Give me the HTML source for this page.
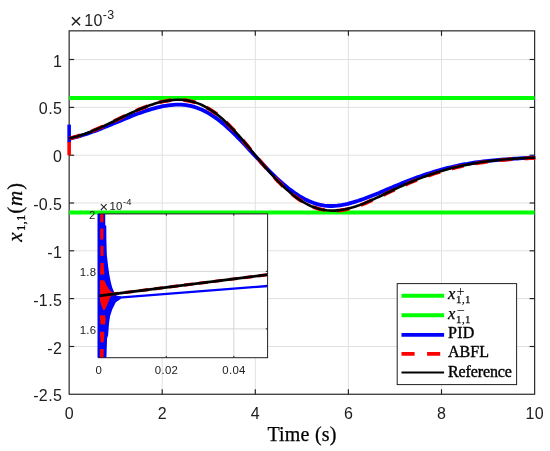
<!DOCTYPE html>
<html lang="en"><head><meta charset="utf-8"><title>Plot</title>
<style>html,body{margin:0;padding:0;background:#fff;}svg{display:block;}</style>
</head><body>
<svg width="550" height="451" viewBox="0 0 550 451">
<rect x="0" y="0" width="550" height="451" fill="#ffffff"/>
<g stroke="#e1e1e1" stroke-width="1" fill="none">
<line x1="162.2" y1="30.85" x2="162.2" y2="394.3"/>
<line x1="255.3" y1="30.85" x2="255.3" y2="394.3"/>
<line x1="348.4" y1="30.85" x2="348.4" y2="394.3"/>
<line x1="441.5" y1="30.85" x2="441.5" y2="394.3"/>
<line x1="69.15" y1="59.5" x2="534.6" y2="59.5"/>
<line x1="69.15" y1="107.4" x2="534.6" y2="107.4"/>
<line x1="69.15" y1="155.2" x2="534.6" y2="155.2"/>
<line x1="69.15" y1="203.0" x2="534.6" y2="203.0"/>
<line x1="69.15" y1="250.8" x2="534.6" y2="250.8"/>
<line x1="69.15" y1="298.6" x2="534.6" y2="298.6"/>
<line x1="69.15" y1="346.5" x2="534.6" y2="346.5"/>
</g>
<g stroke="#202020" stroke-width="1.15" fill="none">
<rect x="69.15" y="30.85" width="465.5" height="363.4"/>
<line x1="162.2" y1="394.3" x2="162.2" y2="389.3"/>
<line x1="162.2" y1="30.85" x2="162.2" y2="35.85"/>
<line x1="255.3" y1="394.3" x2="255.3" y2="389.3"/>
<line x1="255.3" y1="30.85" x2="255.3" y2="35.85"/>
<line x1="348.4" y1="394.3" x2="348.4" y2="389.3"/>
<line x1="348.4" y1="30.85" x2="348.4" y2="35.85"/>
<line x1="441.5" y1="394.3" x2="441.5" y2="389.3"/>
<line x1="441.5" y1="30.85" x2="441.5" y2="35.85"/>
<line x1="69.15" y1="59.5" x2="74.15" y2="59.5"/>
<line x1="534.6" y1="59.5" x2="529.6" y2="59.5"/>
<line x1="69.15" y1="107.4" x2="74.15" y2="107.4"/>
<line x1="534.6" y1="107.4" x2="529.6" y2="107.4"/>
<line x1="69.15" y1="155.2" x2="74.15" y2="155.2"/>
<line x1="534.6" y1="155.2" x2="529.6" y2="155.2"/>
<line x1="69.15" y1="203.0" x2="74.15" y2="203.0"/>
<line x1="534.6" y1="203.0" x2="529.6" y2="203.0"/>
<line x1="69.15" y1="250.8" x2="74.15" y2="250.8"/>
<line x1="534.6" y1="250.8" x2="529.6" y2="250.8"/>
<line x1="69.15" y1="298.6" x2="74.15" y2="298.6"/>
<line x1="534.6" y1="298.6" x2="529.6" y2="298.6"/>
<line x1="69.15" y1="346.5" x2="74.15" y2="346.5"/>
<line x1="534.6" y1="346.5" x2="529.6" y2="346.5"/>
</g>
<line x1="69.15" y1="97.95" x2="534.6" y2="97.95" stroke="#00ff00" stroke-width="4.0"/>
<line x1="69.15" y1="212.45" x2="534.6" y2="212.45" stroke="#00ff00" stroke-width="4.0"/>
<path d="M69.2,138.8 L71.8,138.2 L74.4,137.5 L77.0,136.8 L79.6,136.1 L82.2,135.3 L84.8,134.5 L87.4,133.6 L90.0,132.7 L92.6,131.8 L95.2,130.9 L97.8,129.9 L100.4,128.9 L103.0,127.8 L105.6,126.8 L108.2,125.7 L110.8,124.7 L113.4,123.6 L116.0,122.5 L118.6,121.4 L121.2,120.4 L123.8,119.3 L126.4,118.2 L129.0,117.2 L131.6,116.1 L134.2,115.1 L136.8,114.1 L139.4,113.1 L142.1,112.2 L144.7,111.3 L147.3,110.4 L149.9,109.6 L152.5,108.8 L155.1,108.1 L157.7,107.4 L160.3,106.8 L162.9,106.2 L165.5,105.8 L168.1,105.4 L170.7,105.1 L173.3,104.8 L175.9,104.7 L178.5,104.7 L181.1,104.7 L183.7,104.9 L186.3,105.2 L188.9,105.6 L191.5,106.2 L194.1,106.9 L196.7,107.7 L199.3,108.7 L201.9,109.8 L204.5,111.0 L207.1,112.4 L209.7,113.9 L212.3,115.6 L215.0,117.4 L217.6,119.3 L220.2,121.3 L222.8,123.4 L225.4,125.7 L228.0,128.0 L230.6,130.4 L233.2,132.9 L235.8,135.5 L238.4,138.1 L241.0,140.8 L243.6,143.5 L246.2,146.3 L248.8,149.1 L251.4,151.9 L254.0,154.7 L256.6,157.5 L259.2,160.3 L261.8,163.1 L264.4,165.8 L267.0,168.5 L269.6,171.2 L272.2,173.8 L274.8,176.3 L277.4,178.8 L280.0,181.2 L282.6,183.5 L285.3,185.7 L287.9,187.9 L290.5,189.9 L293.1,191.8 L295.7,193.7 L298.3,195.4 L300.9,197.0 L303.5,198.4 L306.1,199.8 L308.7,201.0 L311.3,202.1 L313.9,203.1 L316.5,203.9 L319.1,204.6 L321.7,205.1 L324.3,205.6 L326.9,205.8 L329.5,206.0 L332.1,206.0 L334.7,205.9 L337.3,205.7 L339.9,205.3 L342.5,204.9 L345.1,204.4 L347.7,203.8 L350.3,203.1 L352.9,202.4 L355.5,201.6 L358.2,200.8 L360.8,199.9 L363.4,199.0 L366.0,198.0 L368.6,197.0 L371.2,196.0 L373.8,195.0 L376.4,193.9 L379.0,192.9 L381.6,191.8 L384.2,190.7 L386.8,189.6 L389.4,188.5 L392.0,187.4 L394.6,186.3 L397.2,185.3 L399.8,184.2 L402.4,183.1 L405.0,182.1 L407.6,181.1 L410.2,180.1 L412.8,179.1 L415.4,178.1 L418.0,177.1 L420.6,176.2 L423.2,175.3 L425.8,174.4 L428.5,173.5 L431.1,172.7 L433.7,171.9 L436.3,171.1 L438.9,170.4 L441.5,169.6 L444.1,168.9 L446.7,168.2 L449.3,167.6 L451.9,167.0 L454.5,166.4 L457.1,165.8 L459.7,165.2 L462.3,164.7 L464.9,164.2 L467.5,163.8 L470.1,163.3 L472.7,162.9 L475.3,162.5 L477.9,162.1 L480.5,161.8 L483.1,161.5 L485.7,161.2 L488.3,160.9 L490.9,160.6 L493.5,160.3 L496.1,160.1 L498.7,159.9 L501.4,159.7 L504.0,159.5 L506.6,159.3 L509.2,159.1 L511.8,158.9 L514.4,158.7 L517.0,158.6 L519.6,158.4 L522.2,158.2 L524.8,158.1 L527.4,157.9 L530.0,157.7 L532.6,157.5 L535.2,157.3" fill="none" stroke="#0000ff" stroke-width="3.8" stroke-linejoin="round"/>
<line x1="69.15" y1="124.6" x2="69.15" y2="142.4" stroke="#0000ff" stroke-width="3.6"/>
<path d="M69.2,138.4 L71.8,137.8 L74.4,137.1 L77.0,136.4 L79.6,135.6 L82.2,134.8 L84.8,133.9 L87.4,133.0 L90.0,132.0 L92.6,130.9 L95.2,129.8 L97.8,128.7 L100.4,127.6 L103.0,126.4 L105.6,125.2 L108.2,124.0 L110.8,122.7 L113.4,121.5 L116.0,120.2 L118.6,119.0 L121.2,117.7 L123.8,116.5 L126.4,115.2 L129.0,114.0 L131.6,112.8 L134.2,111.6 L136.8,110.4 L139.4,109.3 L142.1,108.2 L144.7,107.2 L147.3,106.2 L149.9,105.3 L152.5,104.4 L155.1,103.6 L157.7,102.8 L160.3,102.1 L162.9,101.5 L165.5,101.0 L168.1,100.6 L170.7,100.2 L173.3,100.0 L175.9,99.8 L178.5,99.8 L181.1,99.8 L183.7,100.0 L186.3,100.3 L188.9,100.8 L191.5,101.4 L194.1,102.1 L196.7,102.9 L199.3,103.9 L201.9,105.0 L204.5,106.3 L207.1,107.8 L209.7,109.3 L212.3,111.1 L215.0,112.9 L217.6,114.9 L220.2,117.1 L222.8,119.3 L225.4,121.7 L228.0,124.2 L230.6,126.8 L233.2,129.5 L235.8,132.3 L238.4,135.2 L241.0,138.2 L243.6,141.2 L246.2,144.3 L248.8,147.4 L251.4,150.5 L254.0,153.7 L256.6,156.8 L259.2,159.9 L261.8,163.0 L264.4,166.1 L267.0,169.1 L269.6,172.1 L272.2,175.0 L274.8,177.8 L277.4,180.6 L280.0,183.2 L282.6,185.8 L285.3,188.3 L287.9,190.6 L290.5,192.9 L293.1,195.0 L295.7,197.0 L298.3,198.9 L300.9,200.6 L303.5,202.2 L306.1,203.7 L308.7,205.0 L311.3,206.2 L313.9,207.2 L316.5,208.1 L319.1,208.9 L321.7,209.5 L324.3,210.0 L326.9,210.4 L329.5,210.7 L332.1,210.8 L334.7,210.8 L337.3,210.6 L339.9,210.4 L342.5,210.0 L345.1,209.6 L347.7,209.0 L350.3,208.4 L352.9,207.6 L355.5,206.8 L358.2,205.9 L360.8,205.0 L363.4,203.9 L366.0,202.9 L368.6,201.8 L371.2,200.6 L373.8,199.5 L376.4,198.3 L379.0,197.0 L381.6,195.8 L384.2,194.6 L386.8,193.3 L389.4,192.1 L392.0,190.9 L394.6,189.6 L397.2,188.4 L399.8,187.2 L402.4,186.1 L405.0,184.9 L407.6,183.8 L410.2,182.6 L412.8,181.5 L415.4,180.5 L418.0,179.4 L420.6,178.4 L423.2,177.5 L425.8,176.5 L428.5,175.6 L431.1,174.7 L433.7,173.8 L436.3,173.0 L438.9,172.2 L441.5,171.4 L444.1,170.6 L446.7,169.9 L449.3,169.2 L451.9,168.5 L454.5,167.8 L457.1,167.2 L459.7,166.6 L462.3,166.0 L464.9,165.5 L467.5,164.9 L470.1,164.4 L472.7,164.0 L475.3,163.5 L477.9,163.1 L480.5,162.7 L483.1,162.3 L485.7,161.9 L488.3,161.5 L490.9,161.2 L493.5,160.9 L496.1,160.6 L498.7,160.3 L501.4,160.1 L504.0,159.8 L506.6,159.6 L509.2,159.4 L511.8,159.2 L514.4,159.0 L517.0,158.9 L519.6,158.7 L522.2,158.6 L524.8,158.4 L527.4,158.3 L530.0,158.2 L532.6,158.1 L535.2,158.0" fill="none" stroke="#ff0000" stroke-width="3.8" stroke-dasharray="12.5 12" stroke-dashoffset="1"/>
<line x1="69.15" y1="142" x2="69.15" y2="155.3" stroke="#ff0000" stroke-width="3.6"/>
<path d="M69.2,138.4 L71.8,137.8 L74.4,137.1 L77.0,136.4 L79.6,135.6 L82.2,134.8 L84.8,133.9 L87.4,133.0 L90.0,132.0 L92.6,130.9 L95.2,129.8 L97.8,128.7 L100.4,127.6 L103.0,126.4 L105.6,125.2 L108.2,124.0 L110.8,122.7 L113.4,121.5 L116.0,120.2 L118.6,119.0 L121.2,117.7 L123.8,116.5 L126.4,115.2 L129.0,114.0 L131.6,112.8 L134.2,111.6 L136.8,110.4 L139.4,109.3 L142.1,108.2 L144.7,107.2 L147.3,106.2 L149.9,105.3 L152.5,104.4 L155.1,103.6 L157.7,102.8 L160.3,102.1 L162.9,101.5 L165.5,101.0 L168.1,100.6 L170.7,100.2 L173.3,100.0 L175.9,99.8 L178.5,99.8 L181.1,99.8 L183.7,100.0 L186.3,100.3 L188.9,100.8 L191.5,101.4 L194.1,102.1 L196.7,102.9 L199.3,103.9 L201.9,105.0 L204.5,106.3 L207.1,107.8 L209.7,109.3 L212.3,111.1 L215.0,112.9 L217.6,114.9 L220.2,117.1 L222.8,119.3 L225.4,121.7 L228.0,124.2 L230.6,126.8 L233.2,129.5 L235.8,132.3 L238.4,135.2 L241.0,138.2 L243.6,141.2 L246.2,144.3 L248.8,147.4 L251.4,150.5 L254.0,153.7 L256.6,156.8 L259.2,159.9 L261.8,163.0 L264.4,166.1 L267.0,169.1 L269.6,172.1 L272.2,175.0 L274.8,177.8 L277.4,180.6 L280.0,183.2 L282.6,185.8 L285.3,188.3 L287.9,190.6 L290.5,192.9 L293.1,195.0 L295.7,197.0 L298.3,198.9 L300.9,200.6 L303.5,202.2 L306.1,203.7 L308.7,205.0 L311.3,206.2 L313.9,207.2 L316.5,208.1 L319.1,208.9 L321.7,209.5 L324.3,210.0 L326.9,210.3 L329.5,210.5 L332.1,210.6 L334.7,210.6 L337.3,210.4 L339.9,210.2 L342.5,209.8 L345.1,209.3 L347.7,208.7 L350.3,208.0 L352.9,207.3 L355.5,206.5 L358.2,205.6 L360.8,204.6 L363.4,203.6 L366.0,202.5 L368.6,201.4 L371.2,200.3 L373.8,199.1 L376.4,197.9 L379.0,196.7 L381.6,195.5 L384.2,194.2 L386.8,193.0 L389.4,191.8 L392.0,190.5 L394.6,189.3 L397.2,188.1 L399.8,186.9 L402.4,185.7 L405.0,184.5 L407.6,183.4 L410.2,182.3 L412.8,181.2 L415.4,180.1 L418.0,179.1 L420.6,178.1 L423.2,177.1 L425.8,176.2 L428.5,175.2 L431.1,174.3 L433.7,173.5 L436.3,172.6 L438.9,171.8 L441.5,171.0 L444.1,170.3 L446.7,169.5 L449.3,168.8 L451.9,168.1 L454.5,167.5 L457.1,166.9 L459.7,166.3 L462.3,165.7 L464.9,165.1 L467.5,164.6 L470.1,164.1 L472.7,163.6 L475.3,163.2 L477.9,162.7 L480.5,162.3 L483.1,161.9 L485.7,161.5 L488.3,161.2 L490.9,160.9 L493.5,160.6 L496.1,160.3 L498.7,160.0 L501.4,159.7 L504.0,159.5 L506.6,159.3 L509.2,159.1 L511.8,158.9 L514.4,158.7 L517.0,158.5 L519.6,158.4 L522.2,158.2 L524.8,158.1 L527.4,158.0 L530.0,157.8 L532.6,157.7 L535.2,157.6" fill="none" stroke="#000000" stroke-width="2.6" stroke-linejoin="round"/>
<g font-family="'Liberation Sans', sans-serif" font-size="16" fill="#202020" letter-spacing="0.4">
<text x="69.4" y="419.4" text-anchor="middle">0</text>
<text x="162.4" y="419.4" text-anchor="middle">2</text>
<text x="255.5" y="419.4" text-anchor="middle">4</text>
<text x="348.6" y="419.4" text-anchor="middle">6</text>
<text x="441.7" y="419.4" text-anchor="middle">8</text>
<text x="534.8" y="419.4" text-anchor="middle">10</text>
<text x="62.3" y="66.5" text-anchor="end">1</text>
<text x="62.3" y="114.4" text-anchor="end">0.5</text>
<text x="62.3" y="162.2" text-anchor="end">0</text>
<text x="62.3" y="210.0" text-anchor="end">-0.5</text>
<text x="62.3" y="257.8" text-anchor="end">-1</text>
<text x="62.3" y="305.6" text-anchor="end">-1.5</text>
<text x="62.3" y="353.5" text-anchor="end">-2</text>
<text x="62.3" y="401.3" text-anchor="end">-2.5</text>
<text x="69.9" y="28.0" font-size="20.5" letter-spacing="0">×</text>
<text x="84.2" y="26.1">10</text>
<text x="102.8" y="18.9" font-size="12.4">-3</text>
</g>
<text x="302" y="441.2" text-anchor="middle" font-family="'Liberation Serif', serif" font-size="20" fill="#000" stroke="#000" stroke-width="0.25" letter-spacing="0.2">Time (s)</text>
<g transform="translate(22.2,242.6) rotate(-90)" font-family="'Liberation Serif', serif" fill="#000" stroke="#000" stroke-width="0.25"><text x="0.8" y="0" font-size="21" font-style="italic">x</text><text x="11.5" y="2.9" font-size="12.8" letter-spacing="0.3">1,1</text><text x="29.2" y="0" font-size="20">(</text><text x="36.7" y="0" font-size="21" font-style="italic">m</text><text x="52.8" y="0" font-size="20">)</text></g>
<rect x="98.7" y="213.9" width="168.9" height="143.8" fill="#ffffff"/>
<g stroke="#d6d6d6" stroke-width="1">
<line x1="166.3" y1="213.9" x2="166.3" y2="357.7"/>
<line x1="233.8" y1="213.9" x2="233.8" y2="357.7"/>
<line x1="98.7" y1="328.9" x2="267.6" y2="328.9"/>
<line x1="98.7" y1="271.4" x2="267.6" y2="271.4"/>
</g>
<clipPath id="ic"><rect x="97.6" y="213.9" width="170.1" height="143.8"/></clipPath>
<g clip-path="url(#ic)">
<polygon points="97.6,213 105.2,213 105.3,225 106.3,226 106.4,240 106.8,254.4 108.1,266 109.3,274.6 110.7,281.8 112.2,287.5 114.3,292.6 116.5,295.5 121,296.6 121,298.8 115.8,302.2 112.2,309.4 110,316.6 109,323.8 108.1,335.3 107.1,338.2 106.4,358 97.6,358" fill="#0000ff"/>
<line x1="119" y1="297.7" x2="267.6" y2="286.0" stroke="#0000ff" stroke-width="2.3"/>
<g fill="#ff0000">
<rect x="100.2" y="213" width="3.2" height="9.3"/>
<rect x="100.2" y="228.6" width="3.2" height="10.9"/>
<rect x="100.4" y="245.8" width="3.1" height="10.1"/>
<polygon points="100.3,263 103.6,263 104.4,274.6 100,274.6"/>
<polygon points="100,280.3 104.2,280.3 107,286 109.5,290 113.6,293.6 110,297.5 108,303 106,307.5 104.4,310.2 103.4,310.2 101.5,306 100,301"/>
<polygon points="99.8,315.2 105,315.2 105.7,319 105,324.5 100.5,324.5"/>
<polygon points="99.8,331.7 104.2,331.7 104.2,338 103.4,342.5 100.6,342.5"/>
<rect x="99.8" y="349" width="3.8" height="9"/>
</g>
<line x1="98.7" y1="295.8" x2="268.6" y2="274.6" stroke="#ff0000" stroke-width="3.1" stroke-dasharray="9 6" stroke-dashoffset="4"/>
<line x1="98.7" y1="295.8" x2="268.1" y2="274.6" stroke="#000" stroke-width="2.7"/>
</g>
<g stroke="#202020" stroke-width="1" fill="none">
<rect x="98.7" y="213.9" width="168.9" height="143.8"/>
<line x1="166.3" y1="357.7" x2="166.3" y2="355.9"/>
<line x1="166.3" y1="213.9" x2="166.3" y2="215.70000000000002"/>
<line x1="233.8" y1="357.7" x2="233.8" y2="355.9"/>
<line x1="233.8" y1="213.9" x2="233.8" y2="215.70000000000002"/>
<line x1="267.6" y1="328.9" x2="265.8" y2="328.9"/>
<line x1="267.6" y1="271.4" x2="265.8" y2="271.4"/>
</g>
<rect x="97.6" y="213.9" width="1.7" height="143.8" fill="#0000ff"/>
<g font-family="'Liberation Sans', sans-serif" font-size="11.4" fill="#202020" letter-spacing="0.3">
<text x="95.7" y="219.1" text-anchor="end">2</text>
<text x="96.4" y="276.2" text-anchor="end">1.8</text>
<text x="96.4" y="333.7" text-anchor="end">1.6</text>
<text x="98.9" y="373.6" text-anchor="middle">0</text>
<text x="166.5" y="373.6" text-anchor="middle">0.02</text>
<text x="234.0" y="373.6" text-anchor="middle">0.04</text>
<text x="99.5" y="211.6" font-size="14.6" letter-spacing="0">×</text>
<text x="109.4" y="210.3">10</text>
<text x="122.9" y="205.2" font-size="9.4">-4</text>
</g>
<rect x="397.2" y="283.6" width="119.4" height="101.0" fill="#ffffff" stroke="#202020" stroke-width="1"/>
<line x1="401.5" y1="295.7" x2="444.1" y2="295.7" stroke="#00ff00" stroke-width="3.9"/>
<line x1="401.5" y1="315.2" x2="444.1" y2="315.2" stroke="#00ff00" stroke-width="3.9"/>
<line x1="401.5" y1="334.9" x2="444.1" y2="334.9" stroke="#0000ff" stroke-width="3.9"/>
<line x1="401.5" y1="353.85" x2="444.1" y2="353.85" stroke="#ff0000" stroke-width="3.9" stroke-dasharray="13.1 12.5"/>
<line x1="401.5" y1="372.5" x2="444.1" y2="372.5" stroke="#000000" stroke-width="2.2"/>
<g font-family="'Liberation Serif', serif" fill="#000" stroke="#000" stroke-width="0.25">
<text x="448.0" y="299.3" font-size="16.5" font-style="italic" letter-spacing="0">x</text>
<text x="456.4" y="295.6" font-size="14.5" stroke="none">+</text>
<text x="456.0" y="303.1" font-size="10.8" letter-spacing="0.5">1,1</text>
<text x="448.0" y="318.8" font-size="16.5" font-style="italic" letter-spacing="0">x</text>
<text x="456.4" y="315.0" font-size="14.5" stroke="none">−</text>
<text x="456.0" y="322.5" font-size="10.8" letter-spacing="0.5">1,1</text>
<text x="448.0" y="338.3" font-size="16" letter-spacing="0.25" stroke-width="0.4">PID</text>
<text x="448.0" y="356.9" font-size="16" letter-spacing="0" stroke-width="0.4">ABFL</text>
<text x="448.0" y="376.5" font-size="16" letter-spacing="-0.12" stroke-width="0.4">Reference</text>
</g>
</svg>
</body></html>
